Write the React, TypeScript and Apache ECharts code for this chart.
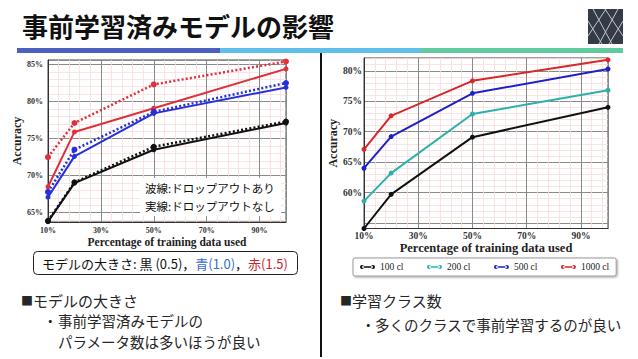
import React, { useEffect, useRef } from "react";
import * as echarts from "echarts";

// ---------- data ----------
const trainPct = [10, 20, 50, 100];
const xTickLabels = [10, 30, 50, 70, 90];
const leftYTicks = [65, 70, 75, 80, 85];
const rightYTicks = [60, 65, 70, 75, 80];

// left chart: model size (solid = no dropout, dotted = dropout)
const blackSolid = [63.8, 69.0, 73.5, 77.1];
const blackDotted = [63.9, 69.1, 73.9, 77.3];
const blueSolid = [67.1, 72.6, 78.4, 81.9];
const blueDotted = [67.8, 73.5, 78.6, 82.5];
const redSolid = [68.5, 75.9, 79.1, 84.4];
const redDotted = [72.5, 77.1, 82.3, 85.4];

// right chart: number of pre-training classes
const classNames = ["100 cl", "200 cl", "500 cl", "1000 cl"];
const cls100 = [54.1, 59.7, 69.1, 74.0];
const cls200 = [58.6, 63.2, 72.9, 76.8];
const cls500 = [64.0, 69.2, 76.3, 80.3];
const cls1000 = [67.1, 72.6, 78.35, 81.8];

const titleText = "事前学習済みモデルの影響";
const noteDotted = "波線:ドロップアウトあり";
const noteSolid = "実線:ドロップアウトなし";

// ---------- styles ----------
const serif = '"Liberation Serif", "Times New Roman", serif';
const jp = '"Noto Sans CJK JP", "Noto Sans", sans-serif';
const pink = "#f8dcdc";
const major = "#8a8a8a";

const near = (v: number, list: number[]) => list.find((t) => Math.abs(v - t) < 1e-6);

function mkX(gridIndex: number, fontSize: number, margin: number, nameGap: number, nameSize: number) {
  return {
    type: "value",
    gridIndex,
    min: 10,
    max: 100,
    interval: 20,
    name: "Percentage of training data used",
    nameLocation: "middle",
    nameGap,
    nameTextStyle: { fontFamily: serif, fontWeight: "bold", fontSize: nameSize, color: "#222" },
    axisLine: { show: true, onZero: false, lineStyle: { color: "#333", width: 1 } },
    axisTick: { show: false },
    axisLabel: {
      fontFamily: serif,
      fontWeight: "bold",
      fontSize,
      color: "#333",
      margin,
      formatter: (v: number) => {
        const t = near(v, xTickLabels);
        return t !== undefined ? `${t}%` : "";
      },
    },
    splitLine: { show: true, lineStyle: { color: major, width: 1 } },
    minorTick: { show: false, splitNumber: 5 },
    minorSplitLine: { show: true, lineStyle: { color: pink, width: 0.8 } },
  };
}

function mkY(gridIndex: number, min: number, max: number, ticks: number[], fontSize: number, margin: number, nameGap: number) {
  return {
    type: "value",
    gridIndex,
    min,
    max,
    splitNumber: 5,
    name: "Accuracy",
    nameLocation: "middle",
    nameGap,
    nameTextStyle: { fontFamily: serif, fontWeight: "bold", fontSize: 12, color: "#222" },
    axisLine: { show: true, onZero: false, lineStyle: { color: "#333", width: 1 } },
    axisTick: { show: false },
    axisLabel: {
      fontFamily: serif,
      fontWeight: "bold",
      fontSize,
      color: "#333",
      margin,
      formatter: (v: number) => {
        const t = near(v, ticks);
        return t !== undefined ? `${t}%` : "";
      },
    },
    splitLine: { show: true, lineStyle: { color: major, width: 1 } },
    minorTick: { show: false, splitNumber: 5 },
    minorSplitLine: { show: true, lineStyle: { color: pink, width: 0.8 } },
  };
}

function mkLine(name: string, vals: number[], color: string, dotted: boolean, idx: number, width: number, size: number) {
  return {
    type: "line",
    name,
    xAxisIndex: idx,
    yAxisIndex: idx,
    data: trainPct.map((x, i) => [x, vals[i]]),
    symbol: "circle",
    symbolSize: size,
    showSymbol: true,
    silent: true,
    lineStyle: { color, width, type: dotted ? [2, 2.2] : "solid" },
    itemStyle: { color },
    emphasis: { disabled: true },
  };
}

const legendIcon =
  "path://M0,2a2,2 0 1,0 4,0a2,2 0 1,0 -4,0Z M11,2a2,2 0 1,0 4,0a2,2 0 1,0 -4,0Z M2,1.3h11v1.4h-11Z";

function jpText(text: string, x: number, y: number, size: number, extra: any = {}) {
  return {
    type: "text",
    x,
    y,
    z: 5,
    silent: true,
    style: {
      text,
      fontFamily: jp,
      fontSize: size,
      lineHeight: size + 1,
      fill: "#262626",
      align: "left",
      verticalAlign: "middle",
      ...extra,
    },
  };
}

// logo lines (local coords inside 35x35 square)
const logoLines = [
  [5, 0, 24, 35],
  [17, 0, 35, 27],
  [30, 0, 11, 35],
  [18, 0, 0, 27],
  [0, 12, 14, 35],
  [35, 12, 21, 35],
];

const option: any = {
  animation: false,
  backgroundColor: "#ffffff",
  grid: [
    { left: 48, top: 60, width: 238, height: 162, show: true, borderColor: "#444", borderWidth: 1, backgroundColor: "#fff" },
    { left: 364, top: 58, width: 244, height: 170.5, show: true, borderColor: "#444", borderWidth: 1, backgroundColor: "#fff" },
  ],
  xAxis: [mkX(0, 8, 4, 14, 11.5), mkX(1, 9.5, 2, 9, 12.5)],
  yAxis: [mkY(0, 63.75, 85.6, leftYTicks, 8, 5, 19), mkY(1, 54.1, 82.1, rightYTicks, 9.5, 2, 21)],
  legend: {
    data: classNames.map((n) => ({ name: n, icon: legendIcon })),
    left: 353,
    top: 258,
    orient: "horizontal",
    itemWidth: 15,
    itemHeight: 4,
    itemGap: 23.5,
    padding: [4, 7, 4, 7],
    borderColor: "#9a9a9a",
    borderWidth: 1,
    borderRadius: 2,
    backgroundColor: "#fff",
    shadowBlur: 2,
    shadowColor: "rgba(0,0,0,0.35)",
    shadowOffsetX: 1,
    shadowOffsetY: 1,
    selectedMode: false,
    textStyle: { fontFamily: serif, fontSize: 9.5, color: "#222" },
  },
  series: [
    mkLine("黒 実線", blackSolid, "#111111", false, 0, 2, 5),
    mkLine("青 実線", blueSolid, "#2530d8", false, 0, 2, 5),
    mkLine("赤 実線", redSolid, "#e0303a", false, 0, 2, 5),
    mkLine("黒 波線", blackDotted, "#111111", true, 0, 2.5, 6),
    mkLine("青 波線", blueDotted, "#2530d8", true, 0, 2.5, 6),
    mkLine("赤 波線", redDotted, "#e0303a", true, 0, 2.5, 6),
    mkLine(classNames[0], cls100, "#111111", false, 1, 2, 5),
    mkLine(classNames[1], cls200, "#2bb1ab", false, 1, 2, 5),
    mkLine(classNames[2], cls500, "#1c22c8", false, 1, 2, 5),
    mkLine(classNames[3], cls1000, "#d8262b", false, 1, 2, 5),
  ],
  graphic: [
    {
      type: "text",
      x: 22,
      y: 25,
      z: 5,
      silent: true,
      style: {
        text: titleText,
        fontFamily: jp,
        fontWeight: "bold",
        fontSize: 26,
        fill: "#111",
        align: "left",
        verticalAlign: "middle",
      },
    },
    { type: "rect", z: 5, silent: true, shape: { x: 17, y: 48, width: 203, height: 5 }, style: { fill: "#4b60c0" } },
    { type: "rect", z: 5, silent: true, shape: { x: 220, y: 48, width: 201, height: 5 }, style: { fill: "#5ec0ea" } },
    { type: "rect", z: 5, silent: true, shape: { x: 421, y: 48, width: 202, height: 5 }, style: { fill: "#5fcb9f" } },
    {
      type: "group",
      x: 588,
      y: 9,
      z: 5,
      silent: true,
      children: [
        { type: "rect", shape: { x: 0, y: 0, width: 35, height: 35 }, style: { fill: "#343b47" } },
        ...logoLines.map((l) => ({
          type: "line",
          shape: { x1: l[0], y1: l[1], x2: l[2], y2: l[3] },
          style: { stroke: "#c3c8cf", lineWidth: 1 },
        })),
      ],
    },
    { type: "rect", z: 5, silent: true, shape: { x: 320, y: 53, width: 2, height: 304 }, style: { fill: "#111" } },
    // note inside left chart
    { type: "rect", z: 1, silent: true, shape: { x: 140, y: 178, width: 141, height: 38 }, style: { fill: "#fff" } },
    jpText(noteDotted, 145, 188, 11.5, { fill: "#111" }),
    jpText(noteSolid, 145, 206, 11.5, { fill: "#111" }),
    // model size box
    {
      type: "rect",
      z: 5,
      silent: true,
      shape: { x: 33.5, y: 251.5, width: 264, height: 23, r: 4 },
      style: { fill: "#fff", stroke: "#222", lineWidth: 1 },
    },
    {
      type: "text",
      x: 42,
      y: 263,
      z: 6,
      silent: true,
      style: {
        text: "{a|モデルの大きさ: 黒 (0.5)，}{b|青(1.0)}{a|，}{c|赤(1.5)}",
        align: "left",
        verticalAlign: "middle",
        fontFamily: jp,
        fontSize: 13,
        rich: {
          a: { fill: "#111", fontFamily: jp, fontSize: 13 },
          b: { fill: "#3a6cc9", fontFamily: jp, fontSize: 13 },
          c: { fill: "#c8272c", fontFamily: jp, fontSize: 13 },
        },
      },
    },
    // bottom texts
    jpText("■", 21, 300, 12),
    jpText("モデルの大きさ", 33, 300, 15),
    jpText("・", 43, 320.5, 14.5),
    jpText("事前学習済みモデルの", 58, 320.5, 14.5),
    jpText("パラメータ数は多いほうが良い", 58, 341.5, 14.5),
    jpText("■", 340, 300, 12),
    jpText("学習クラス数", 352, 300, 15),
    jpText("・", 361, 324, 14.5),
    jpText("多くのクラスで事前学習するのが良い", 375, 324, 14.5),
  ],
};

export default function App() {
  const ref = useRef<HTMLDivElement>(null);
  useEffect(() => {
    if (!ref.current) return;
    const chart = echarts.init(ref.current, null, { renderer: "svg" });
    chart.setOption(option);
    return () => chart.dispose();
  }, []);
  return (
    <div
      ref={ref}
      style={{ position: "absolute", left: 0, top: 0, width: 638, height: 359, background: "#fff" }}
    />
  );
}
